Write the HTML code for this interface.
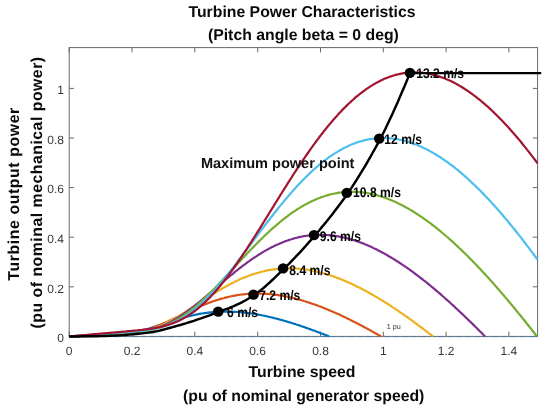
<!DOCTYPE html>
<html><head><meta charset="utf-8"><title>Turbine Power Characteristics</title>
<style>
html,body{margin:0;padding:0;background:#fff;}
body{width:550px;height:412px;overflow:hidden;}
svg{display:block;text-rendering:geometricPrecision;filter:blur(0.35px);font-family:"Liberation Sans",Arial,Helvetica,sans-serif;}
.tk{font-size:12px;fill:#363636;}
.bl{font-size:15.8px;font-weight:bold;fill:#0a0a0a;}
.dl{font-size:12.15px;font-weight:bold;fill:#050505;}
.mp{font-size:14.55px;font-weight:bold;fill:#111;}
.pu{font-size:7.2px;fill:#333;}
.ax line,.ax rect{stroke:#686868;stroke-width:1;fill:none;}
</style></head><body>
<svg width="550" height="412" viewBox="0 0 550 412">
<rect width="550" height="412" fill="#fff"/>
<g class="ax"><rect x="69.2" y="47.6" width="468.40000000000003" height="288.79999999999995"/><line x1="69.2" y1="336.4" x2="69.2" y2="331.59999999999997"/><line x1="69.2" y1="47.6" x2="69.2" y2="52.4"/><line x1="132.0" y1="336.4" x2="132.0" y2="331.59999999999997"/><line x1="132.0" y1="47.6" x2="132.0" y2="52.4"/><line x1="194.8" y1="336.4" x2="194.8" y2="331.59999999999997"/><line x1="194.8" y1="47.6" x2="194.8" y2="52.4"/><line x1="257.7" y1="336.4" x2="257.7" y2="331.59999999999997"/><line x1="257.7" y1="47.6" x2="257.7" y2="52.4"/><line x1="320.5" y1="336.4" x2="320.5" y2="331.59999999999997"/><line x1="320.5" y1="47.6" x2="320.5" y2="52.4"/><line x1="383.3" y1="336.4" x2="383.3" y2="331.59999999999997"/><line x1="383.3" y1="47.6" x2="383.3" y2="52.4"/><line x1="446.1" y1="336.4" x2="446.1" y2="331.59999999999997"/><line x1="446.1" y1="47.6" x2="446.1" y2="52.4"/><line x1="508.9" y1="336.4" x2="508.9" y2="331.59999999999997"/><line x1="508.9" y1="47.6" x2="508.9" y2="52.4"/><line x1="69.2" y1="336.4" x2="74.0" y2="336.4"/><line x1="537.6" y1="336.4" x2="532.8000000000001" y2="336.4"/><line x1="69.2" y1="286.8" x2="74.0" y2="286.8"/><line x1="537.6" y1="286.8" x2="532.8000000000001" y2="286.8"/><line x1="69.2" y1="237.2" x2="74.0" y2="237.2"/><line x1="537.6" y1="237.2" x2="532.8000000000001" y2="237.2"/><line x1="69.2" y1="187.6" x2="74.0" y2="187.6"/><line x1="537.6" y1="187.6" x2="532.8000000000001" y2="187.6"/><line x1="69.2" y1="138.0" x2="74.0" y2="138.0"/><line x1="537.6" y1="138.0" x2="532.8000000000001" y2="138.0"/><line x1="69.2" y1="88.4" x2="74.0" y2="88.4"/><line x1="537.6" y1="88.4" x2="532.8000000000001" y2="88.4"/></g>
<line x1="69.2" y1="336.4" x2="537.6" y2="336.4" stroke="#2f80c4" stroke-width="1.2" stroke-dasharray="6 3" stroke-opacity="0.5" transform="translate(0,0.25)"/>
<path d="M69.2,336.4 L70.4,336.4 L71.5,336.4 L72.7,336.3 L73.9,336.3 L75.1,336.3 L76.2,336.3 L77.4,336.3 L78.6,336.2 L79.8,336.2 L80.9,336.2 L82.1,336.2 L83.3,336.1 L84.5,336.1 L85.6,336.1 L86.8,336.1 L88.0,336.1 L89.2,336.0 L90.3,336.0 L91.5,336.0 L92.7,336.0 L93.9,336.0 L95.0,335.9 L96.2,335.9 L97.4,335.9 L98.5,335.9 L99.7,335.8 L100.9,335.8 L102.1,335.8 L103.2,335.8 L104.4,335.7 L105.6,335.7 L106.8,335.7 L107.9,335.6 L109.1,335.6 L110.3,335.5 L111.5,335.5 L112.6,335.4 L113.8,335.3 L115.0,335.3 L116.2,335.2 L117.3,335.1 L118.5,335.0 L119.7,334.9 L120.9,334.7 L122.0,334.6 L123.2,334.5 L124.4,334.3 L125.5,334.1 L126.7,333.9 L127.9,333.8 L129.1,333.5 L130.2,333.3 L131.4,333.1 L132.6,332.9 L133.8,332.6 L134.9,332.3 L136.1,332.1 L137.3,331.8 L138.5,331.5 L139.6,331.2 L140.8,330.9 L142.0,330.6 L143.2,330.2 L144.3,329.9 L145.5,329.5 L146.7,329.2 L147.9,328.8 L149.0,328.5 L150.2,328.1 L151.4,327.7 L152.5,327.3 L153.7,327.0 L154.9,326.6 L156.1,326.2 L157.2,325.8 L158.4,325.4 L159.6,325.0 L160.8,324.6 L161.9,324.2 L163.1,323.8 L164.3,323.4 L165.5,323.0 L166.6,322.7 L167.8,322.3 L169.0,321.9 L170.2,321.5 L171.3,321.1 L172.5,320.8 L173.7,320.4 L174.9,320.0 L176.0,319.7 L177.2,319.3 L178.4,319.0 L179.5,318.6 L180.7,318.3 L181.9,318.0 L183.1,317.6 L184.2,317.3 L185.4,317.0 L186.6,316.7 L187.8,316.4 L188.9,316.1 L190.1,315.9 L191.3,315.6 L192.5,315.3 L193.6,315.1 L194.8,314.8 L196.0,314.6 L197.2,314.4 L198.3,314.1 L199.5,313.9 L200.7,313.7 L201.9,313.5 L203.0,313.4 L204.2,313.2 L205.4,313.0 L206.6,312.9 L207.7,312.7 L208.9,312.6 L210.1,312.4 L211.2,312.3 L212.4,312.2 L213.6,312.1 L214.8,312.0 L215.9,311.9 L217.1,311.9 L218.3,311.8 L219.5,311.7 L220.6,311.7 L221.8,311.7 L223.0,311.6 L224.2,311.6 L225.3,311.6 L226.5,311.6 L227.7,311.6 L228.9,311.6 L230.0,311.6 L231.2,311.7 L232.4,311.7 L233.6,311.8 L234.7,311.8 L235.9,311.9 L237.1,312.0 L238.2,312.0 L239.4,312.1 L240.6,312.2 L241.8,312.3 L242.9,312.5 L244.1,312.6 L245.3,312.7 L246.5,312.8 L247.6,313.0 L248.8,313.1 L250.0,313.3 L251.2,313.5 L252.3,313.6 L253.5,313.8 L254.7,314.0 L255.9,314.2 L257.0,314.4 L258.2,314.6 L259.4,314.8 L260.6,315.0 L261.7,315.3 L262.9,315.5 L264.1,315.7 L265.2,316.0 L266.4,316.2 L267.6,316.5 L268.8,316.8 L269.9,317.0 L271.1,317.3 L272.3,317.6 L273.5,317.9 L274.6,318.2 L275.8,318.5 L277.0,318.8 L278.2,319.1 L279.3,319.4 L280.5,319.7 L281.7,320.0 L282.9,320.4 L284.0,320.7 L285.2,321.0 L286.4,321.4 L287.6,321.7 L288.7,322.1 L289.9,322.4 L291.1,322.8 L292.2,323.2 L293.4,323.5 L294.6,323.9 L295.8,324.3 L296.9,324.7 L298.1,325.0 L299.3,325.4 L300.5,325.8 L301.6,326.2 L302.8,326.6 L304.0,327.0 L305.2,327.4 L306.3,327.9 L307.5,328.3 L308.7,328.7 L309.9,329.1 L311.0,329.5 L312.2,330.0 L313.4,330.4 L314.6,330.8 L315.7,331.3 L316.9,331.7 L318.1,332.1 L319.2,332.6 L320.4,333.0 L321.6,333.5 L322.8,333.9 L323.9,334.4 L325.1,334.8 L326.3,335.3 L327.5,335.8 L328.6,336.2 L329.0,336.4" fill="none" stroke="#0072BD" stroke-width="2.2" stroke-linejoin="round"/><path d="M69.2,336.4 L70.4,336.4 L71.5,336.3 L72.7,336.3 L73.9,336.3 L75.1,336.2 L76.2,336.2 L77.4,336.2 L78.6,336.2 L79.8,336.1 L80.9,336.1 L82.1,336.1 L83.3,336.0 L84.5,336.0 L85.6,336.0 L86.8,335.9 L88.0,335.9 L89.2,335.9 L90.3,335.8 L91.5,335.8 L92.7,335.8 L93.9,335.8 L95.0,335.7 L96.2,335.7 L97.4,335.7 L98.5,335.6 L99.7,335.6 L100.9,335.6 L102.1,335.5 L103.2,335.5 L104.4,335.5 L105.6,335.4 L106.8,335.4 L107.9,335.4 L109.1,335.3 L110.3,335.3 L111.5,335.2 L112.6,335.2 L113.8,335.1 L115.0,335.1 L116.2,335.0 L117.3,335.0 L118.5,334.9 L119.7,334.8 L120.9,334.7 L122.0,334.6 L123.2,334.5 L124.4,334.4 L125.5,334.3 L126.7,334.2 L127.9,334.0 L129.1,333.8 L130.2,333.7 L131.4,333.5 L132.6,333.3 L133.8,333.1 L134.9,332.9 L136.1,332.6 L137.3,332.4 L138.5,332.1 L139.6,331.8 L140.8,331.5 L142.0,331.2 L143.2,330.9 L144.3,330.6 L145.5,330.2 L146.7,329.8 L147.9,329.5 L149.0,329.1 L150.2,328.7 L151.4,328.3 L152.5,327.8 L153.7,327.4 L154.9,326.9 L156.1,326.5 L157.2,326.0 L158.4,325.5 L159.6,325.0 L160.8,324.5 L161.9,324.0 L163.1,323.5 L164.3,323.0 L165.5,322.5 L166.6,321.9 L167.8,321.4 L169.0,320.8 L170.2,320.3 L171.3,319.7 L172.5,319.2 L173.7,318.6 L174.9,318.1 L176.0,317.5 L177.2,316.9 L178.4,316.4 L179.5,315.8 L180.7,315.2 L181.9,314.7 L183.1,314.1 L184.2,313.5 L185.4,313.0 L186.6,312.4 L187.8,311.9 L188.9,311.3 L190.1,310.8 L191.3,310.2 L192.5,309.7 L193.6,309.2 L194.8,308.6 L196.0,308.1 L197.2,307.6 L198.3,307.1 L199.5,306.6 L200.7,306.1 L201.9,305.6 L203.0,305.1 L204.2,304.6 L205.4,304.2 L206.6,303.7 L207.7,303.3 L208.9,302.8 L210.1,302.4 L211.2,302.0 L212.4,301.6 L213.6,301.1 L214.8,300.8 L215.9,300.4 L217.1,300.0 L218.3,299.6 L219.5,299.3 L220.6,298.9 L221.8,298.6 L223.0,298.3 L224.2,298.0 L225.3,297.6 L226.5,297.4 L227.7,297.1 L228.9,296.8 L230.0,296.5 L231.2,296.3 L232.4,296.0 L233.6,295.8 L234.7,295.6 L235.9,295.4 L237.1,295.2 L238.2,295.0 L239.4,294.8 L240.6,294.7 L241.8,294.5 L242.9,294.4 L244.1,294.3 L245.3,294.1 L246.5,294.0 L247.6,293.9 L248.8,293.8 L250.0,293.8 L251.2,293.7 L252.3,293.7 L253.5,293.6 L254.7,293.6 L255.9,293.6 L257.0,293.5 L258.2,293.5 L259.4,293.6 L260.6,293.6 L261.7,293.6 L262.9,293.6 L264.1,293.7 L265.2,293.8 L266.4,293.8 L267.6,293.9 L268.8,294.0 L269.9,294.1 L271.1,294.2 L272.3,294.3 L273.5,294.5 L274.6,294.6 L275.8,294.8 L277.0,294.9 L278.2,295.1 L279.3,295.3 L280.5,295.5 L281.7,295.6 L282.9,295.9 L284.0,296.1 L285.2,296.3 L286.4,296.5 L287.6,296.8 L288.7,297.0 L289.9,297.3 L291.1,297.5 L292.2,297.8 L293.4,298.1 L294.6,298.4 L295.8,298.7 L296.9,299.0 L298.1,299.3 L299.3,299.6 L300.5,299.9 L301.6,300.3 L302.8,300.6 L304.0,301.0 L305.2,301.3 L306.3,301.7 L307.5,302.1 L308.7,302.5 L309.9,302.9 L311.0,303.2 L312.2,303.7 L313.4,304.1 L314.6,304.5 L315.7,304.9 L316.9,305.3 L318.1,305.8 L319.2,306.2 L320.4,306.6 L321.6,307.1 L322.8,307.6 L323.9,308.0 L325.1,308.5 L326.3,309.0 L327.5,309.5 L328.6,309.9 L329.8,310.4 L331.0,310.9 L332.2,311.4 L333.3,312.0 L334.5,312.5 L335.7,313.0 L336.9,313.5 L338.0,314.1 L339.2,314.6 L340.4,315.1 L341.6,315.7 L342.7,316.2 L343.9,316.8 L345.1,317.3 L346.2,317.9 L347.4,318.5 L348.6,319.1 L349.8,319.6 L350.9,320.2 L352.1,320.8 L353.3,321.4 L354.5,322.0 L355.6,322.6 L356.8,323.2 L358.0,323.8 L359.2,324.4 L360.3,325.0 L361.5,325.6 L362.7,326.3 L363.9,326.9 L365.0,327.5 L366.2,328.1 L367.4,328.8 L368.6,329.4 L369.7,330.1 L370.9,330.7 L372.1,331.4 L373.2,332.0 L374.4,332.7 L375.6,333.3 L376.8,334.0 L377.9,334.6 L379.1,335.3 L380.3,336.0 L381.0,336.4" fill="none" stroke="#D95319" stroke-width="2.2" stroke-linejoin="round"/><path d="M69.2,336.4 L70.4,336.4 L71.5,336.3 L72.7,336.3 L73.9,336.2 L75.1,336.2 L76.2,336.1 L77.4,336.1 L78.6,336.1 L79.8,336.0 L80.9,336.0 L82.1,335.9 L83.3,335.9 L84.5,335.9 L85.6,335.8 L86.8,335.8 L88.0,335.7 L89.2,335.7 L90.3,335.6 L91.5,335.6 L92.7,335.6 L93.9,335.5 L95.0,335.5 L96.2,335.4 L97.4,335.4 L98.5,335.4 L99.7,335.3 L100.9,335.3 L102.1,335.2 L103.2,335.2 L104.4,335.1 L105.6,335.1 L106.8,335.1 L107.9,335.0 L109.1,335.0 L110.3,334.9 L111.5,334.9 L112.6,334.8 L113.8,334.8 L115.0,334.7 L116.2,334.7 L117.3,334.6 L118.5,334.6 L119.7,334.5 L120.9,334.4 L122.0,334.4 L123.2,334.3 L124.4,334.2 L125.5,334.1 L126.7,334.0 L127.9,333.9 L129.1,333.8 L130.2,333.7 L131.4,333.5 L132.6,333.4 L133.8,333.2 L134.9,333.0 L136.1,332.9 L137.3,332.7 L138.5,332.5 L139.6,332.2 L140.8,332.0 L142.0,331.7 L143.2,331.5 L144.3,331.2 L145.5,330.9 L146.7,330.6 L147.9,330.2 L149.0,329.9 L150.2,329.5 L151.4,329.1 L152.5,328.7 L153.7,328.3 L154.9,327.9 L156.1,327.4 L157.2,327.0 L158.4,326.5 L159.6,326.0 L160.8,325.5 L161.9,325.0 L163.1,324.4 L164.3,323.9 L165.5,323.3 L166.6,322.7 L167.8,322.1 L169.0,321.5 L170.2,320.9 L171.3,320.2 L172.5,319.6 L173.7,318.9 L174.9,318.2 L176.0,317.6 L177.2,316.9 L178.4,316.2 L179.5,315.5 L180.7,314.8 L181.9,314.0 L183.1,313.3 L184.2,312.6 L185.4,311.8 L186.6,311.1 L187.8,310.3 L188.9,309.6 L190.1,308.8 L191.3,308.0 L192.5,307.3 L193.6,306.5 L194.8,305.7 L196.0,305.0 L197.2,304.2 L198.3,303.4 L199.5,302.7 L200.7,301.9 L201.9,301.1 L203.0,300.4 L204.2,299.6 L205.4,298.8 L206.6,298.1 L207.7,297.3 L208.9,296.6 L210.1,295.8 L211.2,295.1 L212.4,294.4 L213.6,293.6 L214.8,292.9 L215.9,292.2 L217.1,291.5 L218.3,290.8 L219.5,290.1 L220.6,289.4 L221.8,288.7 L223.0,288.0 L224.2,287.4 L225.3,286.7 L226.5,286.1 L227.7,285.4 L228.9,284.8 L230.0,284.2 L231.2,283.6 L232.4,283.0 L233.6,282.4 L234.7,281.8 L235.9,281.3 L237.1,280.7 L238.2,280.2 L239.4,279.6 L240.6,279.1 L241.8,278.6 L242.9,278.1 L244.1,277.6 L245.3,277.1 L246.5,276.7 L247.6,276.2 L248.8,275.8 L250.0,275.3 L251.2,274.9 L252.3,274.5 L253.5,274.1 L254.7,273.8 L255.9,273.4 L257.0,273.0 L258.2,272.7 L259.4,272.4 L260.6,272.1 L261.7,271.8 L262.9,271.5 L264.1,271.2 L265.2,270.9 L266.4,270.7 L267.6,270.4 L268.8,270.2 L269.9,270.0 L271.1,269.8 L272.3,269.6 L273.5,269.4 L274.6,269.3 L275.8,269.1 L277.0,269.0 L278.2,268.9 L279.3,268.8 L280.5,268.7 L281.7,268.6 L282.9,268.5 L284.0,268.5 L285.2,268.4 L286.4,268.4 L287.6,268.4 L288.7,268.3 L289.9,268.4 L291.1,268.4 L292.2,268.4 L293.4,268.4 L294.6,268.5 L295.8,268.5 L296.9,268.6 L298.1,268.7 L299.3,268.8 L300.5,268.9 L301.6,269.0 L302.8,269.2 L304.0,269.3 L305.2,269.5 L306.3,269.6 L307.5,269.8 L308.7,270.0 L309.9,270.2 L311.0,270.4 L312.2,270.6 L313.4,270.9 L314.6,271.1 L315.7,271.4 L316.9,271.6 L318.1,271.9 L319.2,272.2 L320.4,272.5 L321.6,272.8 L322.8,273.1 L323.9,273.5 L325.1,273.8 L326.3,274.1 L327.5,274.5 L328.6,274.9 L329.8,275.2 L331.0,275.6 L332.2,276.0 L333.3,276.4 L334.5,276.8 L335.7,277.3 L336.9,277.7 L338.0,278.1 L339.2,278.6 L340.4,279.1 L341.6,279.5 L342.7,280.0 L343.9,280.5 L345.1,281.0 L346.2,281.5 L347.4,282.0 L348.6,282.5 L349.8,283.0 L350.9,283.6 L352.1,284.1 L353.3,284.7 L354.5,285.2 L355.6,285.8 L356.8,286.4 L358.0,287.0 L359.2,287.5 L360.3,288.1 L361.5,288.7 L362.7,289.4 L363.9,290.0 L365.0,290.6 L366.2,291.2 L367.4,291.9 L368.6,292.5 L369.7,293.2 L370.9,293.8 L372.1,294.5 L373.2,295.2 L374.4,295.9 L375.6,296.5 L376.8,297.2 L377.9,297.9 L379.1,298.6 L380.3,299.4 L381.5,300.1 L382.6,300.8 L383.8,301.5 L385.0,302.3 L386.2,303.0 L387.3,303.7 L388.5,304.5 L389.7,305.2 L390.9,306.0 L392.0,306.8 L393.2,307.6 L394.4,308.3 L395.6,309.1 L396.7,309.9 L397.9,310.7 L399.1,311.5 L400.2,312.3 L401.4,313.1 L402.6,313.9 L403.8,314.7 L404.9,315.6 L406.1,316.4 L407.3,317.2 L408.5,318.0 L409.6,318.9 L410.8,319.7 L412.0,320.6 L413.2,321.4 L414.3,322.3 L415.5,323.1 L416.7,324.0 L417.9,324.9 L419.0,325.8 L420.2,326.6 L421.4,327.5 L422.6,328.4 L423.7,329.3 L424.9,330.2 L426.1,331.1 L427.3,332.0 L428.4,332.9 L429.6,333.8 L430.8,334.7 L431.9,335.6 L433.0,336.4" fill="none" stroke="#EDB120" stroke-width="2.2" stroke-linejoin="round"/><path d="M69.2,336.4 L70.4,336.3 L71.5,336.3 L72.7,336.2 L73.9,336.2 L75.1,336.1 L76.2,336.1 L77.4,336.0 L78.6,336.0 L79.8,335.9 L80.9,335.9 L82.1,335.8 L83.3,335.7 L84.5,335.7 L85.6,335.6 L86.8,335.6 L88.0,335.5 L89.2,335.5 L90.3,335.4 L91.5,335.4 L92.7,335.3 L93.9,335.3 L95.0,335.2 L96.2,335.1 L97.4,335.1 L98.5,335.0 L99.7,335.0 L100.9,334.9 L102.1,334.9 L103.2,334.8 L104.4,334.8 L105.6,334.7 L106.8,334.7 L107.9,334.6 L109.1,334.5 L110.3,334.5 L111.5,334.4 L112.6,334.4 L113.8,334.3 L115.0,334.3 L116.2,334.2 L117.3,334.1 L118.5,334.1 L119.7,334.0 L120.9,334.0 L122.0,333.9 L123.2,333.8 L124.4,333.7 L125.5,333.7 L126.7,333.6 L127.9,333.5 L129.1,333.4 L130.2,333.3 L131.4,333.2 L132.6,333.1 L133.8,333.0 L134.9,332.8 L136.1,332.7 L137.3,332.5 L138.5,332.4 L139.6,332.2 L140.8,332.0 L142.0,331.8 L143.2,331.6 L144.3,331.4 L145.5,331.2 L146.7,330.9 L147.9,330.6 L149.0,330.3 L150.2,330.0 L151.4,329.7 L152.5,329.4 L153.7,329.0 L154.9,328.7 L156.1,328.3 L157.2,327.9 L158.4,327.4 L159.6,327.0 L160.8,326.5 L161.9,326.1 L163.1,325.6 L164.3,325.0 L165.5,324.5 L166.6,323.9 L167.8,323.4 L169.0,322.8 L170.2,322.1 L171.3,321.5 L172.5,320.9 L173.7,320.2 L174.9,319.5 L176.0,318.8 L177.2,318.1 L178.4,317.3 L179.5,316.6 L180.7,315.8 L181.9,315.0 L183.1,314.2 L184.2,313.4 L185.4,312.6 L186.6,311.8 L187.8,310.9 L188.9,310.0 L190.1,309.2 L191.3,308.3 L192.5,307.4 L193.6,306.5 L194.8,305.5 L196.0,304.6 L197.2,303.7 L198.3,302.7 L199.5,301.8 L200.7,300.8 L201.9,299.8 L203.0,298.9 L204.2,297.9 L205.4,296.9 L206.6,295.9 L207.7,294.9 L208.9,293.9 L210.1,292.9 L211.2,291.9 L212.4,290.9 L213.6,289.9 L214.8,288.9 L215.9,287.9 L217.1,286.9 L218.3,285.9 L219.5,284.9 L220.6,283.9 L221.8,282.9 L223.0,281.9 L224.2,280.9 L225.3,279.9 L226.5,278.9 L227.7,277.9 L228.9,277.0 L230.0,276.0 L231.2,275.0 L232.4,274.1 L233.6,273.1 L234.7,272.1 L235.9,271.2 L237.1,270.3 L238.2,269.3 L239.4,268.4 L240.6,267.5 L241.8,266.6 L242.9,265.7 L244.1,264.8 L245.3,264.0 L246.5,263.1 L247.6,262.2 L248.8,261.4 L250.0,260.6 L251.2,259.7 L252.3,258.9 L253.5,258.1 L254.7,257.3 L255.9,256.6 L257.0,255.8 L258.2,255.0 L259.4,254.3 L260.6,253.6 L261.7,252.8 L262.9,252.1 L264.1,251.4 L265.2,250.8 L266.4,250.1 L267.6,249.4 L268.8,248.8 L269.9,248.2 L271.1,247.6 L272.3,247.0 L273.5,246.4 L274.6,245.8 L275.8,245.3 L277.0,244.7 L278.2,244.2 L279.3,243.7 L280.5,243.2 L281.7,242.7 L282.9,242.2 L284.0,241.8 L285.2,241.3 L286.4,240.9 L287.6,240.5 L288.7,240.1 L289.9,239.7 L291.1,239.3 L292.2,239.0 L293.4,238.6 L294.6,238.3 L295.8,238.0 L296.9,237.7 L298.1,237.4 L299.3,237.1 L300.5,236.9 L301.6,236.7 L302.8,236.4 L304.0,236.2 L305.2,236.0 L306.3,235.8 L307.5,235.7 L308.7,235.5 L309.9,235.4 L311.0,235.3 L312.2,235.2 L313.4,235.1 L314.6,235.0 L315.7,234.9 L316.9,234.9 L318.1,234.8 L319.2,234.8 L320.4,234.8 L321.6,234.8 L322.8,234.8 L323.9,234.9 L325.1,234.9 L326.3,235.0 L327.5,235.1 L328.6,235.2 L329.8,235.3 L331.0,235.4 L332.2,235.5 L333.3,235.6 L334.5,235.8 L335.7,236.0 L336.9,236.2 L338.0,236.3 L339.2,236.6 L340.4,236.8 L341.6,237.0 L342.7,237.3 L343.9,237.5 L345.1,237.8 L346.2,238.1 L347.4,238.4 L348.6,238.7 L349.8,239.0 L350.9,239.3 L352.1,239.7 L353.3,240.0 L354.5,240.4 L355.6,240.8 L356.8,241.2 L358.0,241.6 L359.2,242.0 L360.3,242.4 L361.5,242.9 L362.7,243.3 L363.9,243.8 L365.0,244.3 L366.2,244.8 L367.4,245.3 L368.6,245.8 L369.7,246.3 L370.9,246.8 L372.1,247.3 L373.2,247.9 L374.4,248.5 L375.6,249.0 L376.8,249.6 L377.9,250.2 L379.1,250.8 L380.3,251.4 L381.5,252.0 L382.6,252.7 L383.8,253.3 L385.0,254.0 L386.2,254.6 L387.3,255.3 L388.5,256.0 L389.7,256.7 L390.9,257.3 L392.0,258.1 L393.2,258.8 L394.4,259.5 L395.6,260.2 L396.7,261.0 L397.9,261.7 L399.1,262.5 L400.2,263.3 L401.4,264.0 L402.6,264.8 L403.8,265.6 L404.9,266.4 L406.1,267.2 L407.3,268.0 L408.5,268.9 L409.6,269.7 L410.8,270.5 L412.0,271.4 L413.2,272.2 L414.3,273.1 L415.5,274.0 L416.7,274.9 L417.9,275.8 L419.0,276.6 L420.2,277.6 L421.4,278.5 L422.6,279.4 L423.7,280.3 L424.9,281.2 L426.1,282.2 L427.3,283.1 L428.4,284.1 L429.6,285.0 L430.8,286.0 L431.9,287.0 L433.1,287.9 L434.3,288.9 L435.5,289.9 L436.6,290.9 L437.8,291.9 L439.0,292.9 L440.2,293.9 L441.3,294.9 L442.5,296.0 L443.7,297.0 L444.9,298.0 L446.0,299.1 L447.2,300.1 L448.4,301.2 L449.6,302.2 L450.7,303.3 L451.9,304.4 L453.1,305.4 L454.3,306.5 L455.4,307.6 L456.6,308.7 L457.8,309.8 L458.9,310.9 L460.1,312.0 L461.3,313.1 L462.5,314.2 L463.6,315.3 L464.8,316.5 L466.0,317.6 L467.2,318.7 L468.3,319.9 L469.5,321.0 L470.7,322.1 L471.9,323.3 L473.0,324.4 L474.2,325.6 L475.4,326.8 L476.6,327.9 L477.7,329.1 L478.9,330.3 L480.1,331.5 L481.3,332.6 L482.4,333.8 L483.6,335.0 L484.8,336.2 L485.0,336.4" fill="none" stroke="#7E2F8E" stroke-width="2.2" stroke-linejoin="round"/><path d="M69.2,336.4 L70.4,336.3 L71.5,336.3 L72.7,336.2 L73.9,336.1 L75.1,336.1 L76.2,336.0 L77.4,335.9 L78.6,335.8 L79.8,335.8 L80.9,335.7 L82.1,335.6 L83.3,335.6 L84.5,335.5 L85.6,335.4 L86.8,335.4 L88.0,335.3 L89.2,335.2 L90.3,335.2 L91.5,335.1 L92.7,335.0 L93.9,335.0 L95.0,334.9 L96.2,334.8 L97.4,334.7 L98.5,334.7 L99.7,334.6 L100.9,334.5 L102.1,334.5 L103.2,334.4 L104.4,334.3 L105.6,334.3 L106.8,334.2 L107.9,334.1 L109.1,334.1 L110.3,334.0 L111.5,333.9 L112.6,333.8 L113.8,333.8 L115.0,333.7 L116.2,333.6 L117.3,333.6 L118.5,333.5 L119.7,333.4 L120.9,333.4 L122.0,333.3 L123.2,333.2 L124.4,333.1 L125.5,333.0 L126.7,333.0 L127.9,332.9 L129.1,332.8 L130.2,332.7 L131.4,332.6 L132.6,332.5 L133.8,332.4 L134.9,332.3 L136.1,332.2 L137.3,332.1 L138.5,331.9 L139.6,331.8 L140.8,331.6 L142.0,331.5 L143.2,331.3 L144.3,331.1 L145.5,331.0 L146.7,330.8 L147.9,330.5 L149.0,330.3 L150.2,330.1 L151.4,329.8 L152.5,329.6 L153.7,329.3 L154.9,329.0 L156.1,328.7 L157.2,328.3 L158.4,328.0 L159.6,327.6 L160.8,327.2 L161.9,326.8 L163.1,326.4 L164.3,325.9 L165.5,325.4 L166.6,325.0 L167.8,324.5 L169.0,323.9 L170.2,323.4 L171.3,322.8 L172.5,322.2 L173.7,321.6 L174.9,321.0 L176.0,320.3 L177.2,319.6 L178.4,318.9 L179.5,318.2 L180.7,317.5 L181.9,316.7 L183.1,315.9 L184.2,315.1 L185.4,314.3 L186.6,313.4 L187.8,312.6 L188.9,311.7 L190.1,310.8 L191.3,309.9 L192.5,308.9 L193.6,308.0 L194.8,307.0 L196.0,306.0 L197.2,305.0 L198.3,304.0 L199.5,302.9 L200.7,301.9 L201.9,300.8 L203.0,299.7 L204.2,298.6 L205.4,297.5 L206.6,296.4 L207.7,295.2 L208.9,294.1 L210.1,292.9 L211.2,291.7 L212.4,290.6 L213.6,289.4 L214.8,288.2 L215.9,287.0 L217.1,285.7 L218.3,284.5 L219.5,283.3 L220.6,282.0 L221.8,280.8 L223.0,279.5 L224.2,278.3 L225.3,277.0 L226.5,275.8 L227.7,274.5 L228.9,273.2 L230.0,272.0 L231.2,270.7 L232.4,269.4 L233.6,268.1 L234.7,266.9 L235.9,265.6 L237.1,264.3 L238.2,263.1 L239.4,261.8 L240.6,260.5 L241.8,259.3 L242.9,258.0 L244.1,256.7 L245.3,255.5 L246.5,254.2 L247.6,253.0 L248.8,251.8 L250.0,250.5 L251.2,249.3 L252.3,248.1 L253.5,246.9 L254.7,245.7 L255.9,244.5 L257.0,243.3 L258.2,242.1 L259.4,240.9 L260.6,239.8 L261.7,238.6 L262.9,237.5 L264.1,236.3 L265.2,235.2 L266.4,234.1 L267.6,233.0 L268.8,231.9 L269.9,230.8 L271.1,229.7 L272.3,228.7 L273.5,227.6 L274.6,226.6 L275.8,225.6 L277.0,224.6 L278.2,223.6 L279.3,222.6 L280.5,221.6 L281.7,220.7 L282.9,219.7 L284.0,218.8 L285.2,217.9 L286.4,217.0 L287.6,216.1 L288.7,215.2 L289.9,214.4 L291.1,213.5 L292.2,212.7 L293.4,211.9 L294.6,211.1 L295.8,210.3 L296.9,209.5 L298.1,208.8 L299.3,208.1 L300.5,207.3 L301.6,206.6 L302.8,205.9 L304.0,205.3 L305.2,204.6 L306.3,204.0 L307.5,203.4 L308.7,202.7 L309.9,202.2 L311.0,201.6 L312.2,201.0 L313.4,200.5 L314.6,199.9 L315.7,199.4 L316.9,198.9 L318.1,198.5 L319.2,198.0 L320.4,197.6 L321.6,197.1 L322.8,196.7 L323.9,196.3 L325.1,196.0 L326.3,195.6 L327.5,195.2 L328.6,194.9 L329.8,194.6 L331.0,194.3 L332.2,194.0 L333.3,193.8 L334.5,193.5 L335.7,193.3 L336.9,193.1 L338.0,192.9 L339.2,192.7 L340.4,192.5 L341.6,192.4 L342.7,192.2 L343.9,192.1 L345.1,192.0 L346.2,191.9 L347.4,191.9 L348.6,191.8 L349.8,191.8 L350.9,191.8 L352.1,191.8 L353.3,191.8 L354.5,191.8 L355.6,191.8 L356.8,191.9 L358.0,192.0 L359.2,192.1 L360.3,192.2 L361.5,192.3 L362.7,192.4 L363.9,192.6 L365.0,192.7 L366.2,192.9 L367.4,193.1 L368.6,193.3 L369.7,193.5 L370.9,193.8 L372.1,194.0 L373.2,194.3 L374.4,194.6 L375.6,194.9 L376.8,195.2 L377.9,195.5 L379.1,195.9 L380.3,196.2 L381.5,196.6 L382.6,197.0 L383.8,197.4 L385.0,197.8 L386.2,198.2 L387.3,198.6 L388.5,199.1 L389.7,199.6 L390.9,200.0 L392.0,200.5 L393.2,201.0 L394.4,201.5 L395.6,202.1 L396.7,202.6 L397.9,203.2 L399.1,203.7 L400.2,204.3 L401.4,204.9 L402.6,205.5 L403.8,206.1 L404.9,206.8 L406.1,207.4 L407.3,208.1 L408.5,208.7 L409.6,209.4 L410.8,210.1 L412.0,210.8 L413.2,211.5 L414.3,212.3 L415.5,213.0 L416.7,213.8 L417.9,214.5 L419.0,215.3 L420.2,216.1 L421.4,216.9 L422.6,217.7 L423.7,218.5 L424.9,219.3 L426.1,220.2 L427.3,221.0 L428.4,221.9 L429.6,222.7 L430.8,223.6 L431.9,224.5 L433.1,225.4 L434.3,226.3 L435.5,227.2 L436.6,228.2 L437.8,229.1 L439.0,230.1 L440.2,231.0 L441.3,232.0 L442.5,233.0 L443.7,234.0 L444.9,235.0 L446.0,236.0 L447.2,237.0 L448.4,238.0 L449.6,239.1 L450.7,240.1 L451.9,241.2 L453.1,242.2 L454.3,243.3 L455.4,244.4 L456.6,245.5 L457.8,246.6 L458.9,247.7 L460.1,248.8 L461.3,249.9 L462.5,251.0 L463.6,252.2 L464.8,253.3 L466.0,254.5 L467.2,255.6 L468.3,256.8 L469.5,258.0 L470.7,259.2 L471.9,260.4 L473.0,261.6 L474.2,262.8 L475.4,264.0 L476.6,265.2 L477.7,266.5 L478.9,267.7 L480.1,268.9 L481.3,270.2 L482.4,271.5 L483.6,272.7 L484.8,274.0 L485.9,275.3 L487.1,276.6 L488.3,277.8 L489.5,279.1 L490.6,280.5 L491.8,281.8 L493.0,283.1 L494.2,284.4 L495.3,285.7 L496.5,287.1 L497.7,288.4 L498.9,289.8 L500.0,291.1 L501.2,292.5 L502.4,293.9 L503.6,295.2 L504.7,296.6 L505.9,298.0 L507.1,299.4 L508.3,300.8 L509.4,302.2 L510.6,303.6 L511.8,305.0 L512.9,306.4 L514.1,307.8 L515.3,309.3 L516.5,310.7 L517.6,312.1 L518.8,313.6 L520.0,315.0 L521.2,316.5 L522.3,317.9 L523.5,319.4 L524.7,320.8 L525.9,322.3 L527.0,323.8 L528.2,325.3 L529.4,326.8 L530.6,328.2 L531.7,329.7 L532.9,331.2 L534.1,332.7 L535.3,334.2 L536.4,335.8 L536.9,336.4" fill="none" stroke="#77AC30" stroke-width="2.2" stroke-linejoin="round"/><path d="M69.2,336.4 L70.4,336.3 L71.5,336.2 L72.7,336.1 L73.9,336.1 L75.1,336.0 L76.2,335.9 L77.4,335.8 L78.6,335.7 L79.8,335.6 L80.9,335.5 L82.1,335.5 L83.3,335.4 L84.5,335.3 L85.6,335.2 L86.8,335.1 L88.0,335.0 L89.2,335.0 L90.3,334.9 L91.5,334.8 L92.7,334.7 L93.9,334.6 L95.0,334.5 L96.2,334.4 L97.4,334.4 L98.5,334.3 L99.7,334.2 L100.9,334.1 L102.1,334.0 L103.2,333.9 L104.4,333.8 L105.6,333.8 L106.8,333.7 L107.9,333.6 L109.1,333.5 L110.3,333.4 L111.5,333.3 L112.6,333.3 L113.8,333.2 L115.0,333.1 L116.2,333.0 L117.3,332.9 L118.5,332.8 L119.7,332.7 L120.9,332.7 L122.0,332.6 L123.2,332.5 L124.4,332.4 L125.5,332.3 L126.7,332.2 L127.9,332.1 L129.1,332.0 L130.2,331.9 L131.4,331.8 L132.6,331.7 L133.8,331.6 L134.9,331.5 L136.1,331.4 L137.3,331.3 L138.5,331.2 L139.6,331.1 L140.8,330.9 L142.0,330.8 L143.2,330.7 L144.3,330.5 L145.5,330.4 L146.7,330.2 L147.9,330.0 L149.0,329.8 L150.2,329.6 L151.4,329.4 L152.5,329.2 L153.7,329.0 L154.9,328.7 L156.1,328.5 L157.2,328.2 L158.4,327.9 L159.6,327.6 L160.8,327.3 L161.9,327.0 L163.1,326.6 L164.3,326.3 L165.5,325.9 L166.6,325.5 L167.8,325.0 L169.0,324.6 L170.2,324.1 L171.3,323.6 L172.5,323.1 L173.7,322.6 L174.9,322.0 L176.0,321.4 L177.2,320.8 L178.4,320.2 L179.5,319.6 L180.7,318.9 L181.9,318.2 L183.1,317.5 L184.2,316.8 L185.4,316.0 L186.6,315.2 L187.8,314.4 L188.9,313.6 L190.1,312.7 L191.3,311.8 L192.5,310.9 L193.6,310.0 L194.8,309.0 L196.0,308.1 L197.2,307.1 L198.3,306.1 L199.5,305.0 L200.7,303.9 L201.9,302.9 L203.0,301.8 L204.2,300.6 L205.4,299.5 L206.6,298.3 L207.7,297.1 L208.9,295.9 L210.1,294.7 L211.2,293.4 L212.4,292.2 L213.6,290.9 L214.8,289.6 L215.9,288.3 L217.1,287.0 L218.3,285.6 L219.5,284.2 L220.6,282.9 L221.8,281.5 L223.0,280.1 L224.2,278.7 L225.3,277.2 L226.5,275.8 L227.7,274.3 L228.9,272.9 L230.0,271.4 L231.2,269.9 L232.4,268.4 L233.6,266.9 L234.7,265.4 L235.9,263.9 L237.1,262.3 L238.2,260.8 L239.4,259.3 L240.6,257.7 L241.8,256.2 L242.9,254.6 L244.1,253.1 L245.3,251.5 L246.5,249.9 L247.6,248.4 L248.8,246.8 L250.0,245.2 L251.2,243.7 L252.3,242.1 L253.5,240.5 L254.7,238.9 L255.9,237.4 L257.0,235.8 L258.2,234.2 L259.4,232.7 L260.6,231.1 L261.7,229.5 L262.9,228.0 L264.1,226.4 L265.2,224.9 L266.4,223.4 L267.6,221.8 L268.8,220.3 L269.9,218.8 L271.1,217.3 L272.3,215.8 L273.5,214.3 L274.6,212.8 L275.8,211.3 L277.0,209.8 L278.2,208.3 L279.3,206.9 L280.5,205.4 L281.7,204.0 L282.9,202.6 L284.0,201.1 L285.2,199.7 L286.4,198.3 L287.6,197.0 L288.7,195.6 L289.9,194.2 L291.1,192.9 L292.2,191.6 L293.4,190.2 L294.6,188.9 L295.8,187.6 L296.9,186.3 L298.1,185.1 L299.3,183.8 L300.5,182.6 L301.6,181.4 L302.8,180.1 L304.0,179.0 L305.2,177.8 L306.3,176.6 L307.5,175.5 L308.7,174.3 L309.9,173.2 L311.0,172.1 L312.2,171.0 L313.4,169.9 L314.6,168.9 L315.7,167.8 L316.9,166.8 L318.1,165.8 L319.2,164.8 L320.4,163.9 L321.6,162.9 L322.8,162.0 L323.9,161.0 L325.1,160.1 L326.3,159.3 L327.5,158.4 L328.6,157.5 L329.8,156.7 L331.0,155.9 L332.2,155.1 L333.3,154.3 L334.5,153.6 L335.7,152.8 L336.9,152.1 L338.0,151.4 L339.2,150.7 L340.4,150.0 L341.6,149.4 L342.7,148.7 L343.9,148.1 L345.1,147.5 L346.2,146.9 L347.4,146.4 L348.6,145.8 L349.8,145.3 L350.9,144.8 L352.1,144.3 L353.3,143.8 L354.5,143.4 L355.6,143.0 L356.8,142.5 L358.0,142.1 L359.2,141.8 L360.3,141.4 L361.5,141.1 L362.7,140.7 L363.9,140.4 L365.0,140.1 L366.2,139.9 L367.4,139.6 L368.6,139.4 L369.7,139.2 L370.9,139.0 L372.1,138.8 L373.2,138.6 L374.4,138.5 L375.6,138.4 L376.8,138.3 L377.9,138.2 L379.1,138.1 L380.3,138.1 L381.5,138.0 L382.6,138.0 L383.8,138.0 L385.0,138.0 L386.2,138.0 L387.3,138.1 L388.5,138.2 L389.7,138.3 L390.9,138.4 L392.0,138.5 L393.2,138.6 L394.4,138.8 L395.6,138.9 L396.7,139.1 L397.9,139.3 L399.1,139.6 L400.2,139.8 L401.4,140.0 L402.6,140.3 L403.8,140.6 L404.9,140.9 L406.1,141.2 L407.3,141.6 L408.5,141.9 L409.6,142.3 L410.8,142.7 L412.0,143.1 L413.2,143.5 L414.3,143.9 L415.5,144.4 L416.7,144.8 L417.9,145.3 L419.0,145.8 L420.2,146.3 L421.4,146.8 L422.6,147.4 L423.7,147.9 L424.9,148.5 L426.1,149.1 L427.3,149.7 L428.4,150.3 L429.6,150.9 L430.8,151.6 L431.9,152.2 L433.1,152.9 L434.3,153.6 L435.5,154.3 L436.6,155.0 L437.8,155.7 L439.0,156.5 L440.2,157.2 L441.3,158.0 L442.5,158.8 L443.7,159.6 L444.9,160.4 L446.0,161.2 L447.2,162.0 L448.4,162.9 L449.6,163.8 L450.7,164.6 L451.9,165.5 L453.1,166.4 L454.3,167.3 L455.4,168.3 L456.6,169.2 L457.8,170.2 L458.9,171.1 L460.1,172.1 L461.3,173.1 L462.5,174.1 L463.6,175.1 L464.8,176.1 L466.0,177.2 L467.2,178.2 L468.3,179.3 L469.5,180.4 L470.7,181.5 L471.9,182.6 L473.0,183.7 L474.2,184.8 L475.4,185.9 L476.6,187.1 L477.7,188.2 L478.9,189.4 L480.1,190.5 L481.3,191.7 L482.4,192.9 L483.6,194.1 L484.8,195.4 L485.9,196.6 L487.1,197.8 L488.3,199.1 L489.5,200.3 L490.6,201.6 L491.8,202.9 L493.0,204.2 L494.2,205.5 L495.3,206.8 L496.5,208.1 L497.7,209.4 L498.9,210.8 L500.0,212.1 L501.2,213.5 L502.4,214.8 L503.6,216.2 L504.7,217.6 L505.9,219.0 L507.1,220.4 L508.3,221.8 L509.4,223.2 L510.6,224.7 L511.8,226.1 L512.9,227.6 L514.1,229.0 L515.3,230.5 L516.5,232.0 L517.6,233.4 L518.8,234.9 L520.0,236.4 L521.2,237.9 L522.3,239.4 L523.5,241.0 L524.7,242.5 L525.9,244.0 L527.0,245.6 L528.2,247.1 L529.4,248.7 L530.6,250.3 L531.7,251.8 L532.9,253.4 L534.1,255.0 L535.3,256.6 L536.4,258.2 L537.6,259.8" fill="none" stroke="#4DBEEE" stroke-width="2.2" stroke-linejoin="round"/><path d="M69.2,336.4 L70.4,336.3 L71.5,336.2 L72.7,336.1 L73.9,336.0 L75.1,335.9 L76.2,335.8 L77.4,335.7 L78.6,335.6 L79.8,335.5 L80.9,335.4 L82.1,335.3 L83.3,335.2 L84.5,335.1 L85.6,335.0 L86.8,334.9 L88.0,334.8 L89.2,334.6 L90.3,334.5 L91.5,334.4 L92.7,334.3 L93.9,334.2 L95.0,334.1 L96.2,334.0 L97.4,333.9 L98.5,333.8 L99.7,333.7 L100.9,333.6 L102.1,333.5 L103.2,333.4 L104.4,333.3 L105.6,333.2 L106.8,333.1 L107.9,333.0 L109.1,332.9 L110.3,332.8 L111.5,332.7 L112.6,332.6 L113.8,332.5 L115.0,332.4 L116.2,332.3 L117.3,332.2 L118.5,332.1 L119.7,332.0 L120.9,331.9 L122.0,331.8 L123.2,331.7 L124.4,331.6 L125.5,331.5 L126.7,331.3 L127.9,331.2 L129.1,331.1 L130.2,331.0 L131.4,330.9 L132.6,330.8 L133.8,330.7 L134.9,330.6 L136.1,330.5 L137.3,330.4 L138.5,330.2 L139.6,330.1 L140.8,330.0 L142.0,329.9 L143.2,329.7 L144.3,329.6 L145.5,329.4 L146.7,329.3 L147.9,329.1 L149.0,329.0 L150.2,328.8 L151.4,328.6 L152.5,328.4 L153.7,328.3 L154.9,328.0 L156.1,327.8 L157.2,327.6 L158.4,327.4 L159.6,327.1 L160.8,326.9 L161.9,326.6 L163.1,326.3 L164.3,326.0 L165.5,325.7 L166.6,325.3 L167.8,325.0 L169.0,324.6 L170.2,324.2 L171.3,323.8 L172.5,323.4 L173.7,322.9 L174.9,322.5 L176.0,322.0 L177.2,321.5 L178.4,320.9 L179.5,320.4 L180.7,319.8 L181.9,319.2 L183.1,318.6 L184.2,317.9 L185.4,317.3 L186.6,316.6 L187.8,315.8 L188.9,315.1 L190.1,314.3 L191.3,313.5 L192.5,312.7 L193.6,311.9 L194.8,311.0 L196.0,310.1 L197.2,309.2 L198.3,308.2 L199.5,307.2 L200.7,306.2 L201.9,305.2 L203.0,304.1 L204.2,303.0 L205.4,301.9 L206.6,300.8 L207.7,299.6 L208.9,298.5 L210.1,297.2 L211.2,296.0 L212.4,294.7 L213.6,293.5 L214.8,292.2 L215.9,290.8 L217.1,289.5 L218.3,288.1 L219.5,286.7 L220.6,285.3 L221.8,283.8 L223.0,282.4 L224.2,280.9 L225.3,279.4 L226.5,277.9 L227.7,276.3 L228.9,274.7 L230.0,273.2 L231.2,271.6 L232.4,269.9 L233.6,268.3 L234.7,266.7 L235.9,265.0 L237.1,263.3 L238.2,261.6 L239.4,259.9 L240.6,258.2 L241.8,256.4 L242.9,254.7 L244.1,252.9 L245.3,251.1 L246.5,249.3 L247.6,247.5 L248.8,245.7 L250.0,243.9 L251.2,242.1 L252.3,240.2 L253.5,238.4 L254.7,236.5 L255.9,234.7 L257.0,232.8 L258.2,230.9 L259.4,229.1 L260.6,227.2 L261.7,225.3 L262.9,223.4 L264.1,221.5 L265.2,219.6 L266.4,217.7 L267.6,215.8 L268.8,213.9 L269.9,212.0 L271.1,210.1 L272.3,208.2 L273.5,206.3 L274.6,204.4 L275.8,202.5 L277.0,200.6 L278.2,198.7 L279.3,196.8 L280.5,194.9 L281.7,193.0 L282.9,191.2 L284.0,189.3 L285.2,187.4 L286.4,185.6 L287.6,183.7 L288.7,181.9 L289.9,180.0 L291.1,178.2 L292.2,176.4 L293.4,174.5 L294.6,172.7 L295.8,170.9 L296.9,169.1 L298.1,167.4 L299.3,165.6 L300.5,163.8 L301.6,162.1 L302.8,160.3 L304.0,158.6 L305.2,156.9 L306.3,155.2 L307.5,153.5 L308.7,151.8 L309.9,150.1 L311.0,148.5 L312.2,146.8 L313.4,145.2 L314.6,143.6 L315.7,142.0 L316.9,140.4 L318.1,138.8 L319.2,137.3 L320.4,135.8 L321.6,134.2 L322.8,132.7 L323.9,131.2 L325.1,129.7 L326.3,128.3 L327.5,126.8 L328.6,125.4 L329.8,124.0 L331.0,122.6 L332.2,121.2 L333.3,119.9 L334.5,118.5 L335.7,117.2 L336.9,115.9 L338.0,114.6 L339.2,113.3 L340.4,112.1 L341.6,110.8 L342.7,109.6 L343.9,108.4 L345.1,107.2 L346.2,106.1 L347.4,104.9 L348.6,103.8 L349.8,102.7 L350.9,101.6 L352.1,100.5 L353.3,99.5 L354.5,98.4 L355.6,97.4 L356.8,96.4 L358.0,95.5 L359.2,94.5 L360.3,93.6 L361.5,92.7 L362.7,91.8 L363.9,90.9 L365.0,90.1 L366.2,89.2 L367.4,88.4 L368.6,87.6 L369.7,86.8 L370.9,86.1 L372.1,85.4 L373.2,84.6 L374.4,83.9 L375.6,83.3 L376.8,82.6 L377.9,82.0 L379.1,81.4 L380.3,80.8 L381.5,80.2 L382.6,79.7 L383.8,79.1 L385.0,78.6 L386.2,78.1 L387.3,77.7 L388.5,77.2 L389.7,76.8 L390.9,76.4 L392.0,76.0 L393.2,75.6 L394.4,75.3 L395.6,74.9 L396.7,74.6 L397.9,74.3 L399.1,74.1 L400.2,73.8 L401.4,73.6 L402.6,73.4 L403.8,73.2 L404.9,73.0 L406.1,72.8 L407.3,72.7 L408.5,72.6 L409.6,72.5 L410.8,72.4 L412.0,72.4 L413.2,72.3 L414.3,72.3 L415.5,72.3 L416.7,72.4 L417.9,72.4 L419.0,72.5 L420.2,72.5 L421.4,72.6 L422.6,72.7 L423.7,72.9 L424.9,73.0 L426.1,73.2 L427.3,73.4 L428.4,73.6 L429.6,73.8 L430.8,74.1 L431.9,74.4 L433.1,74.7 L434.3,75.0 L435.5,75.3 L436.6,75.6 L437.8,76.0 L439.0,76.3 L440.2,76.7 L441.3,77.2 L442.5,77.6 L443.7,78.0 L444.9,78.5 L446.0,79.0 L447.2,79.5 L448.4,80.0 L449.6,80.5 L450.7,81.1 L451.9,81.6 L453.1,82.2 L454.3,82.8 L455.4,83.4 L456.6,84.1 L457.8,84.7 L458.9,85.4 L460.1,86.1 L461.3,86.8 L462.5,87.5 L463.6,88.2 L464.8,89.0 L466.0,89.8 L467.2,90.5 L468.3,91.3 L469.5,92.1 L470.7,93.0 L471.9,93.8 L473.0,94.7 L474.2,95.6 L475.4,96.4 L476.6,97.4 L477.7,98.3 L478.9,99.2 L480.1,100.2 L481.3,101.1 L482.4,102.1 L483.6,103.1 L484.8,104.1 L485.9,105.1 L487.1,106.2 L488.3,107.2 L489.5,108.3 L490.6,109.4 L491.8,110.5 L493.0,111.6 L494.2,112.7 L495.3,113.9 L496.5,115.0 L497.7,116.2 L498.9,117.4 L500.0,118.6 L501.2,119.8 L502.4,121.0 L503.6,122.2 L504.7,123.5 L505.9,124.7 L507.1,126.0 L508.3,127.3 L509.4,128.6 L510.6,129.9 L511.8,131.2 L512.9,132.6 L514.1,133.9 L515.3,135.3 L516.5,136.7 L517.6,138.0 L518.8,139.4 L520.0,140.8 L521.2,142.3 L522.3,143.7 L523.5,145.2 L524.7,146.6 L525.9,148.1 L527.0,149.6 L528.2,151.1 L529.4,152.6 L530.6,154.1 L531.7,155.6 L532.9,157.1 L534.1,158.7 L535.3,160.2 L536.4,161.8 L537.6,163.4" fill="none" stroke="#A2142F" stroke-width="2.2" stroke-linejoin="round"/>
<path d="M69.2,336.4 L71.3,336.4 L73.5,336.4 L75.6,336.4 L77.8,336.4 L79.9,336.4 L82.1,336.3 L84.2,336.3 L86.3,336.3 L88.5,336.3 L90.6,336.2 L92.8,336.2 L94.9,336.2 L97.1,336.2 L99.2,336.1 L101.3,336.1 L103.5,336.0 L105.6,336.0 L107.8,335.9 L109.9,335.8 L112.1,335.7 L114.2,335.6 L116.3,335.5 L118.5,335.4 L120.6,335.3 L122.8,335.1 L124.9,335.0 L127.1,334.8 L129.2,334.6 L131.3,334.4 L133.5,334.2 L135.7,334.0 L137.8,333.8 L140.0,333.6 L142.2,333.4 L144.4,333.1 L146.5,332.9 L148.7,332.6 L150.9,332.3 L153.1,332.0 L155.2,331.5 L157.4,331.1 L159.6,330.6 L161.8,330.0 L163.9,329.5 L166.1,328.9 L168.3,328.3 L170.4,327.7 L172.6,327.1 L174.8,326.5 L177.0,325.9 L179.1,325.3 L181.3,324.7 L183.5,324.0 L185.7,323.4 L187.8,322.7 L190.0,322.0 L192.2,321.3 L194.4,320.6 L196.5,319.8 L198.7,319.1 L200.9,318.4 L203.0,317.6 L205.2,316.8 L207.4,316.1 L209.6,315.3 L211.7,314.5 L213.9,313.7 L216.1,312.9 L218.3,312.1 L220.4,311.3 L222.5,310.5 L224.7,309.7 L226.8,308.9 L229.0,308.1 L231.1,307.2 L233.3,306.4 L235.4,305.4 L237.5,304.4 L239.7,303.4 L241.8,302.3 L244.0,301.2 L246.1,300.0 L248.2,298.8 L250.4,297.5 L252.5,296.1 L254.7,294.7 L256.8,293.2 L259.0,291.6 L261.1,289.9 L263.2,288.2 L265.4,286.3 L267.5,284.4 L269.7,282.5 L271.8,280.5 L274.0,278.5 L276.1,276.4 L278.2,274.3 L280.4,272.2 L282.5,270.1 L284.7,268.0 L286.8,265.9 L289.0,263.8 L291.1,261.6 L293.2,259.4 L295.4,257.2 L297.5,254.9 L299.7,252.6 L301.8,250.3 L304.0,247.9 L306.1,245.5 L308.2,243.1 L310.4,240.7 L312.5,238.2 L314.7,235.7 L316.8,233.2 L319.0,230.7 L321.1,228.1 L323.2,225.5 L325.4,222.9 L327.5,220.3 L329.7,217.6 L331.8,214.9 L334.0,212.1 L336.1,209.3 L338.2,206.5 L340.4,203.6 L342.5,200.7 L344.7,197.7 L346.8,194.6 L349.0,191.5 L351.1,188.3 L353.2,185.1 L355.4,181.8 L357.5,178.4 L359.7,174.9 L361.8,171.4 L364.0,167.9 L366.1,164.3 L368.2,160.6 L370.4,156.8 L372.5,153.0 L374.7,149.2 L376.8,145.3 L379.0,141.3 L381.1,137.3 L383.2,133.2 L385.3,129.0 L387.3,124.7 L389.4,120.3 L391.5,115.9 L393.5,111.4 L395.6,106.8 L397.7,102.2 L399.7,97.4 L401.8,92.6 L403.9,87.8 L406.0,82.8 L408.0,77.9 L410.1,72.8 L412.9,73.1 L541.2,73.1" fill="none" stroke="#000" stroke-width="2.45" stroke-linejoin="round"/>
<ellipse cx="218.2" cy="311.7" rx="5.3" ry="5.15" fill="#000"/><ellipse cx="253.5" cy="294.7" rx="5.3" ry="5.15" fill="#000"/><ellipse cx="283.1" cy="268.4" rx="5.3" ry="5.15" fill="#000"/><ellipse cx="314.0" cy="235.1" rx="5.3" ry="5.15" fill="#000"/><ellipse cx="346.8" cy="192.9" rx="5.3" ry="5.15" fill="#000"/><ellipse cx="379.2" cy="138.6" rx="5.3" ry="5.15" fill="#000"/><ellipse cx="409.9" cy="72.8" rx="5.3" ry="5.15" fill="#000"/>
<text transform="translate(227.0,317.2) scale(1,1.15)" class="dl">6 m/s</text><text transform="translate(259.2,299.5) scale(1,1.15)" class="dl">7.2 m/s</text><text transform="translate(289.3,274.5) scale(1,1.15)" class="dl">8.4 m/s</text><text transform="translate(319.8,240.6) scale(1,1.15)" class="dl">9.6 m/s</text><text transform="translate(353.0,197.4) scale(1,1.15)" class="dl">10.8 m/s</text><text transform="translate(384.3,143.8) scale(1,1.15)" class="dl">12 m/s</text><text transform="translate(416.2,77.8) scale(1,1.15)" class="dl">13.2 m/s</text>
<text x="200.9" y="168.2" class="mp">Maximum power point</text>
<text x="386.8" y="328.6" class="pu">1 pu</text>
<text x="69.2" y="355" text-anchor="middle" class="tk">0</text><text x="132.0" y="355" text-anchor="middle" class="tk">0.2</text><text x="194.8" y="355" text-anchor="middle" class="tk">0.4</text><text x="257.7" y="355" text-anchor="middle" class="tk">0.6</text><text x="320.5" y="355" text-anchor="middle" class="tk">0.8</text><text x="383.3" y="355" text-anchor="middle" class="tk">1</text><text x="446.1" y="355" text-anchor="middle" class="tk">1.2</text><text x="508.9" y="355" text-anchor="middle" class="tk">1.4</text><text x="64" y="342.2" text-anchor="end" class="tk">0</text><text x="64" y="292.6" text-anchor="end" class="tk">0.2</text><text x="64" y="243.0" text-anchor="end" class="tk">0.4</text><text x="64" y="193.4" text-anchor="end" class="tk">0.6</text><text x="64" y="143.8" text-anchor="end" class="tk">0.8</text><text x="64" y="94.2" text-anchor="end" class="tk">1</text>
<text x="302" y="16.5" text-anchor="middle" class="bl">Turbine Power Characteristics</text>
<text x="303.4" y="40.4" text-anchor="middle" class="bl">(Pitch angle beta = 0 deg)</text>
<text x="302" y="376.6" text-anchor="middle" class="bl">Turbine speed</text>
<text x="303.7" y="400.6" text-anchor="middle" class="bl">(pu of nominal generator speed)</text>
<text transform="translate(19,193.9) rotate(-90)" text-anchor="middle" class="bl" style="letter-spacing:0.62px">Turbine output power</text>
<text transform="translate(42,192.4) rotate(-90)" text-anchor="middle" class="bl" style="letter-spacing:0.52px">(pu of nominal mechanical power)</text>
</svg>
</body></html>
